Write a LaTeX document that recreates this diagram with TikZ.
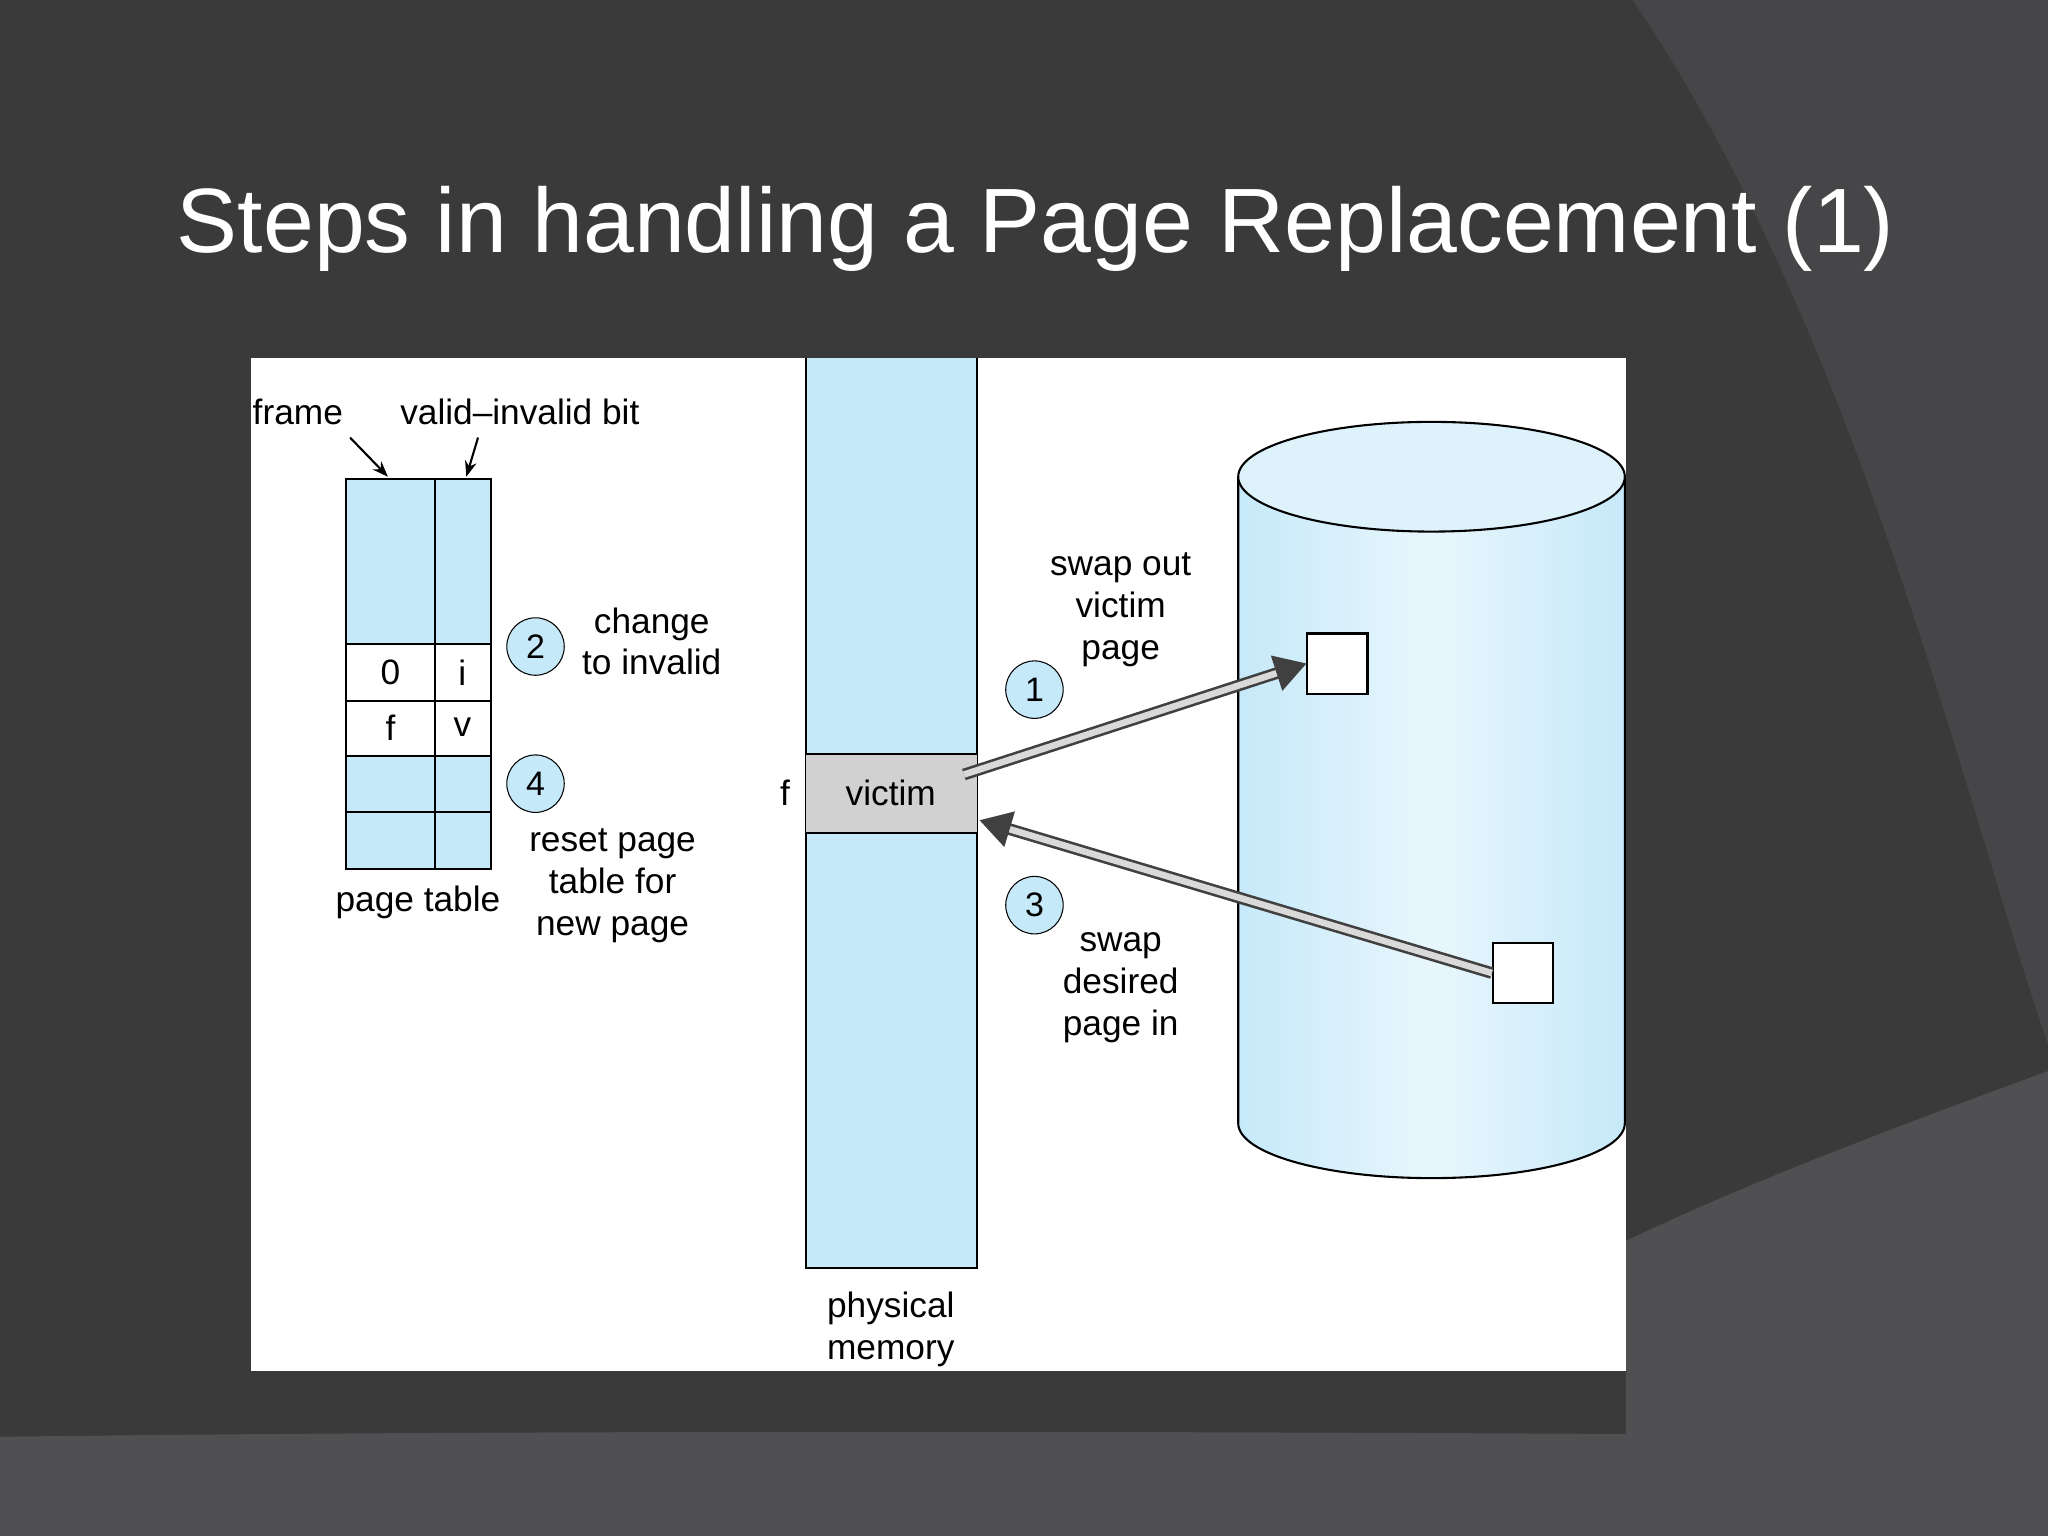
\documentclass[tikz,border=0pt]{standalone}
\usepackage{fontspec}
\setmainfont{Liberation Sans}
\usetikzlibrary{arrows.meta}
\definecolor{bg}{HTML}{3A3A3A}
\definecolor{bg2}{HTML}{464648}
\definecolor{bg3}{HTML}{505053}
\definecolor{lb}{HTML}{C6E9F9}
\tikzset{
  txt/.style={font=\fontsize{13.5}{16}\selectfont, align=center, inner sep=0pt},
  num/.style={circle, draw=black, fill=lb, minimum size=22pt, inner sep=0pt, font=\fontsize{13}{13}\selectfont},
  bigarrow/.style={draw=black!75, double=black!15, double distance=2.5pt, line width=1pt, -{Triangle[length=12pt,width=14pt]}},
  small/.style={-{Stealth[length=6pt]}, thick}
}
\begin{document}
\begin{tikzpicture}[x=0.5pt,y=-0.5pt]
\useasboundingbox (0,0) rectangle (1568,1176);
\fill[bg] (0,0) rectangle (1568,1176);
\fill[bg2] (1250,0) .. controls (1420,250) and (1500,600) .. (1568,800) -- (1568,0) -- cycle;
\fill[bg3] (1245,950) .. controls (1350,900) and (1460,860) .. (1568,820) -- (1568,1176) -- (1245,1176) -- cycle;
\fill[bg3] (0,1100) .. controls (400,1095) and (900,1095) .. (1568,1100) -- (1568,1176) -- (0,1176) -- cycle;
\node[text=white, font=\fontsize{35}{35}\selectfont] (title) at (793,175) {Steps in handling a Page Replacement (1)};
\fill[white] (192,274) rectangle (1245,1050);
% page table
\fill[lb] (265,367) rectangle (376,665);
\fill[white] (265,493) rectangle (376,579);
\draw[thick] (265,367) rectangle (376,665);
\draw[thick] (333,367) -- (333,665);
\foreach \y in {493,537,579,622} \draw[thick] (265,\y) -- (376,\y);
\node[txt] (c0) at (299,515) {0};
\node[txt] (ci) at (354,515) {i};
\node[txt] (cf) at (299,557) {f};
\node[txt] (cv) at (354,557) {v};
\node[txt] (frame) at (228,315) {frame};
\node[txt] (vib) at (398,315) {valid–invalid bit};
\coordinate (fa) at (297,365);
\coordinate (va) at (357,365);
\draw[small] (268,335) -- (fa);
\draw[small] (366,335) -- (va);
\node[txt] (pt) at (320,691) {page table};
\node[num] (n2) at (410,495) {2};
\node[txt] (chg) at (499,491) {change\\to invalid};
\node[num] (n4) at (410,600) {4};
\node[txt] (rst) at (469,678) {reset page\\table for\\new page};
% physical memory
\fill[lb] (617,274) rectangle (748,971);
\draw[thick] (617,274) -- (617,971) -- (748,971) -- (748,274);
\fill[black!18] (617,577) rectangle (748,638);
\draw[thick] (617,577) -- (748,577) (617,638) -- (748,638);
\node[txt] (victim) at (682,607) {victim};
\coordinate (vout) at (738,593);
\coordinate (vin) at (750,628);
\node[txt] (f) at (601,607) {f};
\node[txt] (pm) at (682,1018) {physical\\memory};
% disk
\shade[left color=lb, right color=lb, middle color=lb!40] (948,365) -- (948,860) arc[start angle=180,end angle=0,x radius=148,y radius=42] -- (1244,365) -- cycle;
\draw[thick] (948,365) -- (948,860) arc[start angle=180,end angle=0,x radius=148,y radius=42] -- (1244,365);
\fill[lb!60] (1096,365) ellipse[x radius=148,y radius=42];
\draw[thick] (1096,365) ellipse[x radius=148,y radius=42];
\node[draw=black, fill=white, thick, minimum size=23pt, inner sep=0pt] (s1) at (1024,508) {};
\node[draw=black, fill=white, thick, minimum size=23pt, inner sep=0pt] (s2) at (1166,745) {};
\draw[bigarrow] (vout) -- (s1.west);
\draw[bigarrow] (s2.west) -- (vin);
\node[num] (n1) at (792,528) {1};
\node[num] (n3) at (792,693) {3};
\node[txt] (so) at (858,467) {swap out\\victim\\page};
\node[txt] (sd) at (858,756) {swap\\desired\\page in};
\end{tikzpicture}
\end{document}
